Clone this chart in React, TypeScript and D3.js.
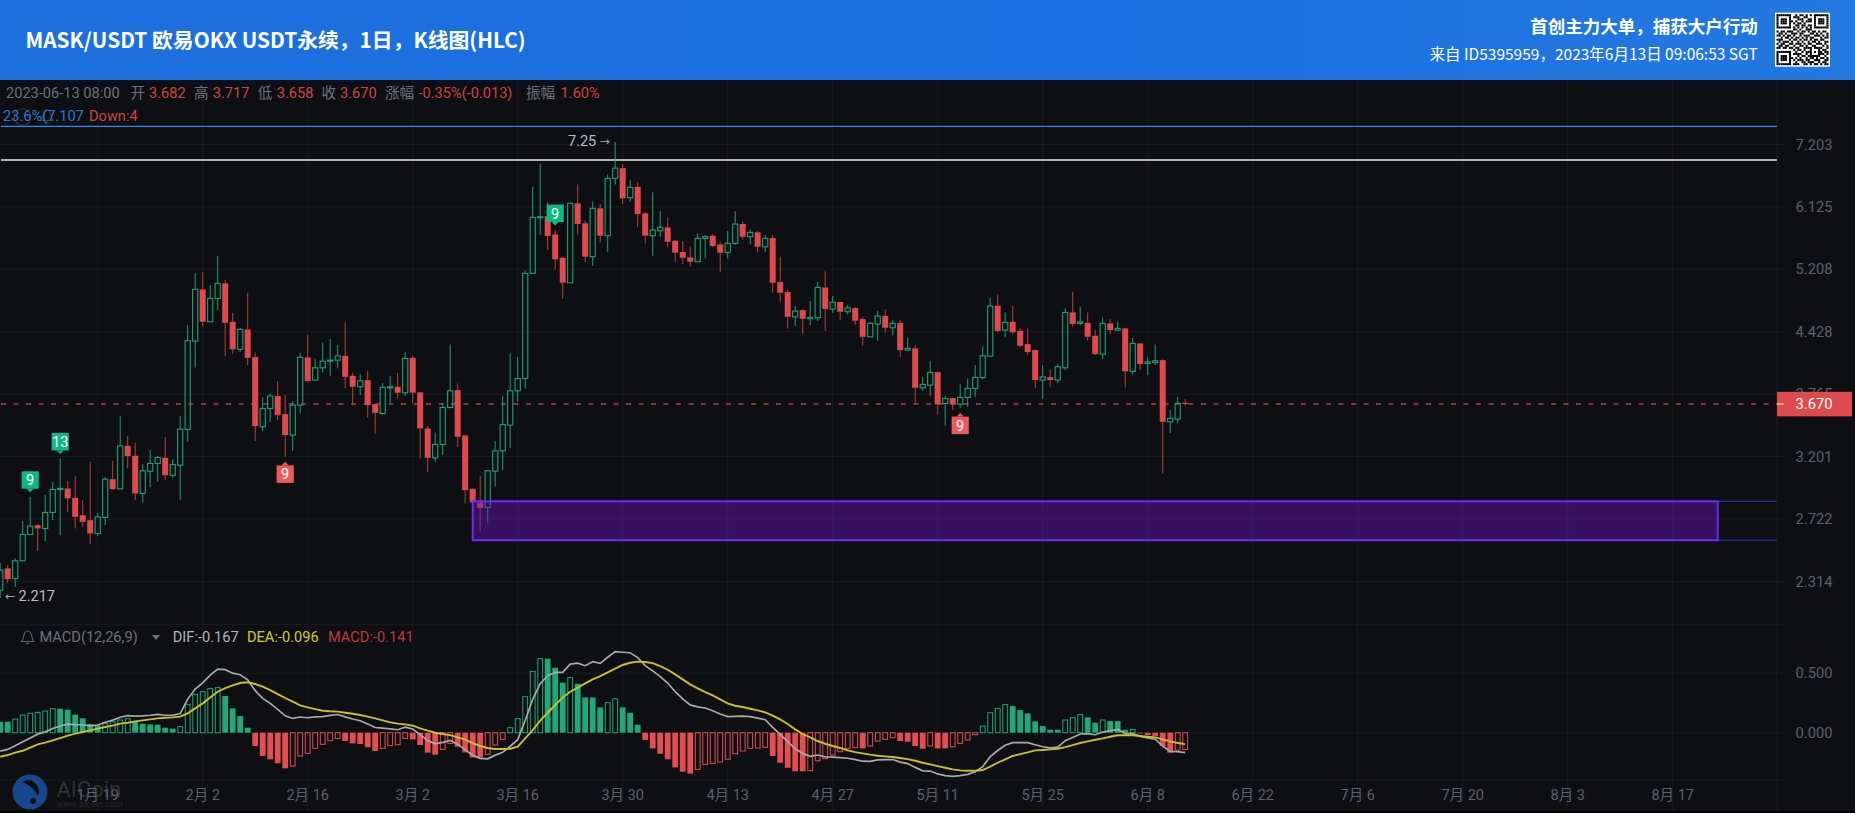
import React from 'react';
import * as d3 from 'd3';

const WIDTH = 1855;
const HEIGHT = 813;

// daily candles, first bar is 2023-01-06
const firstDay = Date.UTC(2023, 0, 6);

const opens = [
  2.262, 2.394, 2.332, 2.442, 2.615, 2.679, 2.656, 2.769, 2.939, 2.947, 2.876, 2.749, 2.714, 2.621, 2.733, 3.019, 2.944, 3.292, 3.208, 2.909, 3.082, 3.145, 3.191, 3.050, 3.131, 3.435,
  4.322, 4.943, 4.544, 4.829, 5.021, 4.544, 4.230, 4.455, 4.146, 3.459, 3.628, 3.748, 3.575, 3.385, 3.659, 4.143, 3.905, 4.032, 4.102, 4.113, 4.159, 3.950, 3.838, 3.905, 3.669, 3.581, 3.832, 3.838,
  3.779, 4.138, 3.782, 3.444, 3.191, 3.304, 3.637, 3.805, 3.382, 2.944, 2.842, 2.805, 3.082, 3.249, 3.474, 3.798, 3.922, 5.154, 5.961, 5.980, 5.703, 5.367, 5.029, 6.182, 5.869, 5.381, 6.102, 5.683, 6.596, 6.774, 6.272,
  6.454, 6.023, 5.683, 5.757, 5.808, 5.609, 5.447, 5.372, 5.311, 5.644, 5.683, 5.556, 5.443, 5.571, 5.858, 5.668, 5.733, 5.522, 5.649, 5.038, 4.909, 4.603, 4.684, 4.580, 4.592, 4.969, 4.696, 4.784, 4.664, 4.709,
  4.576, 4.370, 4.517, 4.615, 4.474, 4.532, 4.222, 4.241, 3.828, 3.855, 3.987, 3.675, 3.726, 3.669, 3.733, 3.822, 3.932, 4.156, 4.738, 4.447, 4.544, 4.439, 4.288, 4.222, 3.905, 3.935, 3.905, 4.032, 4.656, 4.525, 4.532,
  4.382, 4.178, 4.525, 4.447, 4.467, 3.995, 4.296, 4.078, 4.089, 4.113, 3.504, 3.528, 3.682,
];
const highs = [
  2.429, 2.414, 2.459, 2.709, 2.884, 2.686, 2.896, 2.998, 3.186, 3.005, 3.042, 2.859, 3.158, 2.766, 3.036, 3.166, 3.556, 3.376, 3.318, 3.139, 3.255, 3.205, 3.370, 3.178, 3.556, 4.505,
  5.154, 5.168, 4.999, 5.391, 5.064, 4.652, 4.474, 4.900, 4.197, 3.733, 3.772, 3.895, 3.756, 3.697, 4.193, 4.397, 4.131, 4.307, 4.344, 4.277, 4.537, 3.980, 3.967, 4.001, 3.675, 3.878, 3.950, 3.980,
  4.197, 4.159, 3.788, 3.467, 3.408, 3.681, 4.284, 3.871, 3.385, 2.947, 3.044, 3.090, 3.332, 3.745, 4.186, 4.149, 5.198, 6.454, 6.850, 6.208, 5.767, 5.381, 6.192, 6.492, 5.908, 6.208, 6.170, 6.666, 7.250, 6.845, 6.568,
  6.529, 6.048, 6.361, 6.059, 5.955, 5.619, 5.604, 5.522, 5.718, 5.693, 5.708, 5.594, 5.752, 6.059, 5.893, 5.777, 5.752, 5.693, 5.693, 5.381, 4.943, 4.734, 4.693, 4.796, 5.042, 5.189, 4.858, 4.787, 4.746, 4.718,
  4.596, 4.544, 4.676, 4.696, 4.564, 4.564, 4.363, 4.277, 3.938, 4.106, 3.990, 3.748, 3.733, 3.862, 3.922, 4.060, 4.263, 4.837, 4.879, 4.656, 4.734, 4.474, 4.467, 4.230, 4.060, 4.015, 4.071, 4.705, 4.912, 4.725, 4.656,
  4.447, 4.596, 4.576, 4.544, 4.474, 4.359, 4.303, 4.143, 4.284, 4.121, 3.612, 3.739, 3.717,
];
const lows = [
  2.217, 2.304, 2.282, 2.442, 2.610, 2.505, 2.571, 2.714, 2.610, 2.773, 2.656, 2.667, 2.549, 2.604, 2.679, 2.934, 2.944, 3.104, 2.859, 2.842, 2.959, 2.998, 3.011, 3.029, 2.859, 3.326,
  4.036, 4.493, 4.544, 4.684, 4.156, 4.178, 4.203, 4.060, 3.332, 3.420, 3.504, 3.519, 3.199, 3.249, 3.581, 3.882, 3.905, 3.984, 3.950, 4.026, 3.822, 3.659, 3.756, 3.540, 3.394, 3.565, 3.681, 3.723,
  3.748, 3.681, 3.186, 3.077, 3.158, 3.213, 3.628, 3.283, 2.834, 2.842, 2.633, 2.691, 2.964, 3.090, 3.275, 3.691, 3.822, 5.154, 5.693, 5.475, 5.207, 4.820, 5.029, 5.703, 5.304, 5.252, 5.585, 5.451, 6.492, 6.170, 6.208,
  5.808, 5.571, 5.395, 5.668, 5.514, 5.311, 5.281, 5.243, 5.311, 5.359, 5.514, 5.175, 5.359, 5.547, 5.629, 5.556, 5.442, 5.442, 4.900, 4.787, 4.467, 4.493, 4.401, 4.505, 4.552, 4.439, 4.652, 4.564, 4.632, 4.505,
  4.266, 4.370, 4.325, 4.418, 4.385, 4.148, 4.222, 3.669, 3.798, 3.748, 3.575, 3.467, 3.612, 3.631, 3.643, 3.739, 3.912, 4.156, 4.421, 4.370, 4.401, 4.252, 4.167, 3.822, 3.717, 3.832, 3.878, 4.008, 4.486, 4.505, 4.325,
  4.167, 4.127, 4.401, 4.447, 3.832, 3.964, 4.008, 3.957, 4.060, 3.064, 3.405, 3.490, 3.658,
];
const closes = [
  2.383, 2.328, 2.442, 2.615, 2.672, 2.656, 2.769, 2.939, 2.947, 2.872, 2.737, 2.702, 2.621, 2.737, 3.019, 2.942, 3.292, 3.205, 2.909, 3.085, 3.145, 3.194, 3.050, 3.136, 3.438, 4.325,
  4.943, 4.544, 4.829, 5.021, 4.532, 4.230, 4.455, 4.138, 3.465, 3.628, 3.748, 3.565, 3.385, 3.659, 4.143, 3.895, 4.032, 4.102, 4.113, 4.159, 3.938, 3.838, 3.898, 3.659, 3.587, 3.832, 3.838, 3.779,
  4.131, 3.779, 3.444, 3.191, 3.304, 3.637, 3.798, 3.370, 2.934, 2.842, 2.802, 3.085, 3.249, 3.480, 3.798, 3.922, 5.154, 5.961, 5.970, 5.678, 5.345, 5.029, 6.182, 5.858, 5.381, 6.102, 5.683, 6.596, 6.774, 6.262, 6.444,
  6.012, 5.683, 5.767, 5.808, 5.594, 5.437, 5.367, 5.311, 5.644, 5.668, 5.532, 5.437, 5.571, 5.858, 5.668, 5.733, 5.522, 5.644, 5.029, 4.900, 4.603, 4.672, 4.580, 4.596, 4.969, 4.696, 4.780, 4.664, 4.712, 4.556,
  4.370, 4.525, 4.612, 4.474, 4.525, 4.222, 4.241, 3.828, 3.862, 3.984, 3.666, 3.723, 3.666, 3.733, 3.822, 3.932, 4.159, 4.734, 4.436, 4.537, 4.421, 4.270, 4.200, 3.905, 3.938, 3.905, 4.043, 4.656, 4.517, 4.541, 4.370,
  4.178, 4.525, 4.447, 4.467, 3.995, 4.296, 4.071, 4.095, 4.106, 3.504, 3.535, 3.675, 3.670,
];

const macdHist = [
  .093, .093, .115, .149, .163, .171, .182, .202, .202, .194, .152, .121, .073, .062, .079, .093, .107, .118, .090, .076, .070, .067, .042, .034, .051, .239,
  .323, .345, .373, .379, .309, .205, .140, .042, -.112, -.196, -.224, -.258, -.300, -.281, -.196, -.174, -.132, -.098, -.067, -.048, -.070, -.090, -.095, -.123, -.154, -.132, -.109, -.101,
  -.048, -.056, -.104, -.168, -.185, -.140, -.090, -.118, -.166, -.208, -.208, -.182, -.104, -.056, .042, .118, .303, .516, .623, .623, .547, .421, .463, .412, .297, .297, .213, .253, .286, .213, .168,
  .067, -.062, -.132, -.177, -.224, -.292, -.328, -.345, -.309, -.267, -.258, -.247, -.224, -.177, -.154, -.132, -.129, -.123, -.196, -.253, -.295, -.325, -.325, -.320, -.236, -.219, -.188, -.160, -.132, -.126,
  -.132, -.112, -.070, -.056, -.042, -.070, -.076, -.112, -.135, -.112, -.132, -.132, -.118, -.090, -.062, -.017, .056, .168, .205, .236, .224, .191, .163, .095, .056, .025, .025, .107, .126, .152, .129,
  .084, .107, .098, .098, .025, .028, -.006, -.020, -.031, -.112, -.168, -.146, -.141,
];
const dif = [
  -.155, -.141, -.110, -.077, -.044, -.012, .007, .036, .056, .072, .068, .067, .057, .065, .088, .106, .130, .143, .140, .142, .147, .155, .147, .146, .161, .283,
  .367, .420, .484, .535, .531, .501, .488, .445, .354, .289, .247, .196, .142, .120, .132, .126, .133, .136, .146, .153, .133, .115, .101, .073, .044, .038, .032, .025,
  .046, .031, -.016, -.067, -.093, -.081, -.065, -.098, -.142, -.191, -.216, -.220, -.189, -.165, -.114, -.059, .104, .280, .413, .480, .507, .508, .577, .585, .564, .598, .584, .635, .682, .677, .673,
  .632, .564, .520, .472, .418, .345, .285, .234, .218, .208, .185, .157, .135, .138, .139, .136, .123, .109, .045, -.015, -.075, -.135, -.174, -.199, -.188, -.203, -.206, -.209, -.215, -.226,
  -.240, -.241, -.229, -.227, -.226, -.248, -.260, -.292, -.321, -.323, -.347, -.361, -.368, -.362, -.351, -.329, -.286, -.202, -.150, -.106, -.084, -.084, -.084, -.101, -.118, -.127, -.122, -.067, -.041, -.011, -.008,
  -.017, .006, .015, .027, -.007, -.008, -.031, -.044, -.055, -.112, -.157, -.160, -.167,
];
const dea = [
  -.202, -.188, -.168, -.152, -.126, -.098, -.084, -.065, -.045, -.025, -.008, .006, .020, .034, .048, .059, .076, .084, .095, .104, .112, .121, .126, .129, .135, .163,
  .205, .247, .297, .345, .376, .398, .418, .424, .410, .387, .359, .325, .292, .261, .230, .213, .199, .185, .180, .177, .168, .160, .149, .135, .121, .104, .087, .076,
  .070, .059, .036, .017, .000, -.011, -.020, -.039, -.059, -.087, -.112, -.129, -.137, -.137, -.135, -.118, -.048, .022, .101, .168, .233, .297, .345, .379, .415, .449, .477, .508, .539, .570, .589,
  .598, .595, .586, .561, .530, .491, .449, .407, .373, .342, .314, .281, .247, .227, .216, .202, .188, .171, .143, .112, .073, .028, -.011, -.039, -.070, -.093, -.112, -.129, -.149, -.163,
  -.174, -.185, -.194, -.199, -.205, -.213, -.222, -.236, -.253, -.267, -.281, -.295, -.309, -.317, -.320, -.320, -.314, -.286, -.253, -.224, -.196, -.180, -.166, -.149, -.146, -.140, -.135, -.121, -.104, -.087, -.073,
  -.059, -.048, -.034, -.022, -.020, -.022, -.028, -.034, -.039, -.056, -.073, -.087, -.096,
];

const priceTicks = [7.203, 6.125, 5.208, 4.428, 3.765, 3.201, 2.722, 2.314];
const macdTicks = [0.5, 0];
const macdRuleValues = [0.909, 0.5, 0, -0.398];

const xTickDates = ['2023-01-19', '2023-02-02', '2023-02-16', '2023-03-02', '2023-03-16', '2023-03-30', '2023-04-13', '2023-04-27', '2023-05-11', '2023-05-25', '2023-06-08', '2023-06-22', '2023-07-06', '2023-07-20', '2023-08-03', '2023-08-17'];
const xTickLabels = ['1月 19', '2月 2', '2月 16', '3月 2', '3月 16', '3月 30', '4月 13', '4月 27', '5月 11', '5月 25', '6月 8', '6月 22', '7月 6', '7月 20', '8月 3', '8月 17'];

const fibLevel = 7.552;
const whiteLevel = 6.918;
const lastPrice = 3.67;
const zoneTop = 2.85;
const zoneBottom = 2.576;
const zoneStart = '2023-03-10';
const zoneEnd = '2023-08-23';

const seqMarks = [
  { date: '2023-01-10', label: '9', side: 'up' },
  { date: '2023-01-14', label: '13', side: 'up' },
  { date: '2023-03-21', label: '9', side: 'up' },
  { date: '2023-02-13', label: '9', side: 'down' },
  { date: '2023-05-14', label: '9', side: 'down' },
];

const ohlcItems = [
  { text: '2023-06-13 08:00', x: 6, kind: 'label' },
  { text: '开', x: 130.5, kind: 'label' },
  { text: '3.682', x: 149, kind: 'value' },
  { text: '高', x: 194, kind: 'label' },
  { text: '3.717', x: 212.7, kind: 'value' },
  { text: '低', x: 257.7, kind: 'label' },
  { text: '3.658', x: 276.7, kind: 'value' },
  { text: '收', x: 321.5, kind: 'label' },
  { text: '3.670', x: 340, kind: 'value' },
  { text: '涨幅', x: 385, kind: 'label' },
  { text: '-0.35%(-0.013)', x: 418.5, kind: 'value' },
  { text: '振幅', x: 526, kind: 'label' },
  { text: '1.60%', x: 560.6, kind: 'value' },
];

// rough copy of the code square in the header
const qrRows = [
  '1111111001011010101111111',
  '1000001011100110001000001',
  '1011101000111001101011101',
  '1011101101001011101011101',
  '1011101010110100001011101',
  '1000001001101101101000001',
  '1111111010101010101111111',
  '0000000011010011100000000',
  '1011011100101101011010110',
  '0110100111011000110101001',
  '1101011010010111001110101',
  '0010110101101010110001011',
  '1110001011010110101101100',
  '0101110100101001011010011',
  '1011001101110101100111010',
  '0110110010011010011000101',
  '1101101101100111101111001',
  '0000000010110100100010110',
  '1111111001001011101011011',
  '1000001011110010100011101',
  '1011101000101101111110010',
  '1011101101010010110101101',
  '1011101010111011001110011',
  '1000001001001101110010110',
  '1111111011100110101101011',
];

const UI_FONT = 'Roboto, "Noto Sans CJK SC", sans-serif';
const HEAD_FONT = '"Noto Sans CJK SC", Roboto, sans-serif';
const GREEN = '#1aa377';
const RED = '#e04a4c';
const BG = '#0d0f12';
const GRID = '#1a1c20';
const AXIS_TEXT = '#5d616e';
const LABEL_TEXT = '#6e717b';

const x = d3.scaleUtc()
  .domain([Date.UTC(2023, 0, 19), Date.UTC(2023, 7, 17)])
  .range([97.7, 1672.7]);
const y = d3.scaleLog().domain([2.314, 7.203]).range([581.5, 144.5]);
const yMacd = d3.scaleLinear().domain([0, 0.5]).range([732.7, 673.3]);

const dayAt = (i: number) => d3.utcDay.offset(new Date(firstDay), i);
const xOf = (s: string) => x(new Date(s + 'T00:00:00Z'));

const difLine = d3.line<number>().x((_, i) => x(dayAt(i))).y(d => yMacd(d));

const Bell = ({ cx, cy, color }: { cx: number; cy: number; color: string }) => (
  <g transform={`translate(${cx},${cy})`} fill="none" stroke={color} strokeWidth={1.2}>
    <path d="M-6 4.5 C-3.5 2 -5 -6 0 -6 C5 -6 3.5 2 6 4.5 Z" />
    <path d="M-1.5 6.5 L1.5 6.5" />
  </g>
);

const App = () => {
  const candleIndex = opens.map((_, i) => i);

  return (
    <svg
      width={WIDTH}
      height={HEIGHT}
      viewBox={`0 0 ${WIDTH} ${HEIGHT}`}
      style={{ position: 'absolute', left: 0, top: 0, display: 'block' }}
    >
      <defs>
        <linearGradient id="head-bg" x1="0" x2="1" y1="0" y2="0">
          <stop offset="0%" stopColor="#1d6fdd" />
          <stop offset="60%" stopColor="#1c6fe0" />
          <stop offset="100%" stopColor="#2379df" />
        </linearGradient>
        <clipPath id="plot-clip">
          <rect x={0} y={80} width={1777} height={731} />
        </clipPath>
      </defs>

      <rect width={WIDTH} height={HEIGHT} fill="#000" />
      <rect y={80} width={WIDTH} height={731} fill={BG} />

      {/* grid */}
      {xTickDates.map(d => (
        <line key={d} x1={xOf(d)} x2={xOf(d)} y1={80} y2={811} stroke={GRID} />
      ))}
      {priceTicks.map(p => (
        <line key={p} x1={0} x2={1784} y1={y(p)} y2={y(p)} stroke={GRID} />
      ))}
      {macdRuleValues.map(v => (
        <line key={v} x1={0} x2={1784} y1={yMacd(v)} y2={yMacd(v)} stroke={GRID} />
      ))}
      <line x1={1777} x2={1777} y1={80} y2={811} stroke="#1e2024" />

      {/* price levels */}
      <line x1={1} x2={1777} y1={y(fibLevel)} y2={y(fibLevel)} stroke="#1b8cff" strokeWidth={1.3} />
      <line x1={1} x2={1777} y1={y(whiteLevel)} y2={y(whiteLevel)} stroke="#b4b4b4" strokeWidth={2} />
      <line x1={1} x2={1777} y1={y(lastPrice)} y2={y(lastPrice)} stroke="#b83c3e" strokeWidth={1.6} strokeDasharray="5 7.5" />

      {/* candles */}
      <g clipPath="url(#plot-clip)">
        {candleIndex.map(i => {
          const up = closes[i] >= opens[i];
          const cx = x(dayAt(i));
          const top = y(Math.max(opens[i], closes[i]));
          const bottom = y(Math.min(opens[i], closes[i]));
          const color = up ? GREEN : RED;
          return (
            <g key={i}>
              <line x1={cx} x2={cx} y1={y(highs[i])} y2={top} stroke={up ? color : '#b9403f'} strokeWidth={1} />
              <line x1={cx} x2={cx} y1={bottom} y2={y(lows[i])} stroke={up ? color : '#b9403f'} strokeWidth={1} />
              {up ? (
                <rect x={cx - 2.6} y={top} width={5.2} height={Math.max(bottom - top, 1)} fill="none" stroke={color} strokeWidth={1.1} />
              ) : (
                <rect x={cx - 3} y={top} width={6} height={Math.max(bottom - top, 1)} fill={color} />
              )}
            </g>
          );
        })}
      </g>

      {/* zone box */}
      <line x1={xOf(zoneStart)} x2={1777} y1={y(zoneTop)} y2={y(zoneTop)} stroke="#1c2ea8" strokeWidth={1.3} />
      <line x1={xOf(zoneStart)} x2={1777} y1={y(zoneBottom)} y2={y(zoneBottom)} stroke="#1c2ea8" strokeWidth={1.3} />
      <rect
        x={xOf(zoneStart)}
        y={y(zoneTop)}
        width={xOf(zoneEnd) - xOf(zoneStart)}
        height={y(zoneBottom) - y(zoneTop)}
        fill="rgba(107,20,186,0.45)"
        stroke="#6a2cf0"
        strokeWidth={2}
      />

      {/* TD sequence marks */}
      {seqMarks.map(m => {
        const i = d3.utcDay.count(new Date(firstDay), new Date(m.date + 'T00:00:00Z'));
        const cx = x(dayAt(i));
        const isUp = m.side === 'up';
        const tip = isUp ? y(highs[i]) - 4.5 : y(lows[i]) + 5;
        const dir = isUp ? -1 : 1;
        const near = tip + dir * 3.5;
        const far = near + dir * 17.5;
        return (
          <g key={m.date}>
            <rect x={cx - 8.6} y={Math.min(near, far)} width={17.2} height={17.5} fill={isUp ? '#0cb984' : '#ec5b5c'} />
            <path d={`M${cx - 3.5} ${near} L${cx} ${tip} L${cx + 3.5} ${near} Z`} fill={isUp ? '#0cb984' : '#ec5b5c'} />
            <text x={cx} y={(near + far) / 2} dy=".36em" textAnchor="middle" fontFamily={UI_FONT} fontSize={14.5} fill="#fff">
              {m.label}
            </text>
          </g>
        );
      })}

      {/* high / low notes */}
      <text x={568} y={140.7} dy=".35em" fontFamily={UI_FONT} fontSize={14.5} fill="#bdbdbd">
        7.25 <tspan fontSize={10}>→</tspan>
      </text>
      <text x={5} y={596} dy=".35em" fontFamily={UI_FONT} fontSize={14.5} fill="#bdbdbd">
        <tspan fontSize={10}>←</tspan> 2.217
      </text>

      {/* MACD bars */}
      {macdHist.map((v, i) => {
        const cx = x(dayAt(i));
        const hollow = i > 0 && v > macdHist[i - 1];
        const top = yMacd(Math.max(v, 0));
        const bottom = yMacd(Math.min(v, 0));
        const color = v >= 0 ? '#1fa878' : '#e34e50';
        return hollow ? (
          <rect key={i} x={cx - 2.4} y={top} width={4.8} height={bottom - top} fill="none" stroke={color} strokeWidth={1} />
        ) : (
          <rect key={i} x={cx - 2.9} y={top} width={5.8} height={bottom - top} fill={color} />
        );
      })}
      <path d={difLine(dif) ?? ''} fill="none" stroke="#a9a9ab" strokeWidth={1.7} />
      <path d={difLine(dea) ?? ''} fill="none" stroke="#c9bf2c" strokeWidth={1.9} />

      {/* watermark */}
      <g>
        <circle cx={30} cy={792} r={17.5} fill="#17478f" />
        <path d="M22 782 C32 776 42 786 38 796 C34 788 28 784 22 782 Z" fill={BG} />
        <circle cx={33} cy={801} r={3} fill={BG} />
        <text x={56.5} y={797} fontFamily={UI_FONT} fontSize={22} fill="#2e3137">AICoin</text>
        <text x={56.5} y={807} fontFamily={UI_FONT} fontSize={9} fill="#26292e">www.aicoin.com</text>
      </g>

      {/* x axis */}
      {xTickDates.map((d, i) => (
        <text key={d} x={xOf(d)} y={795} dy=".35em" textAnchor="middle" fontFamily={UI_FONT} fontSize={14.5} fill={AXIS_TEXT}>
          {xTickLabels[i]}
        </text>
      ))}

      {/* y axes */}
      {priceTicks.map(p => (
        <text key={p} x={1795.5} y={y(p)} dy=".35em" fontFamily={UI_FONT} fontSize={14.7} fill={AXIS_TEXT}>
          {d3.format('.3f')(p)}
        </text>
      ))}
      {macdTicks.map(v => (
        <text key={v} x={1795.5} y={yMacd(v)} dy=".35em" fontFamily={UI_FONT} fontSize={14.7} fill={AXIS_TEXT}>
          {d3.format('.3f')(v)}
        </text>
      ))}
      <rect x={1777} y={y(lastPrice) - 12.2} width={75} height={24.6} fill="#df4b4d" />
      <line x1={1777} x2={1784} y1={y(lastPrice)} y2={y(lastPrice)} stroke="#fff" strokeWidth={1} />
      <text x={1795.5} y={y(lastPrice)} dy=".35em" fontFamily={UI_FONT} fontSize={14.7} fill="#fff">
        {d3.format('.3f')(lastPrice)}
      </text>

      {/* legends */}
      {ohlcItems.map(t => (
        <text key={t.x} x={t.x} y={93} dy=".35em" fontFamily={UI_FONT} fontSize={14.6} fill={t.kind === 'value' ? '#cf4345' : LABEL_TEXT}>
          {t.text}
        </text>
      ))}
      <circle cx={22.5} cy={117} r={8.3} fill="none" stroke="#3b3e45" strokeWidth={1.1} />
      <Bell cx={47} cy={116} color="#3f4249" />
      <text x={3} y={115.7} dy=".35em" fontFamily={UI_FONT} fontSize={14.6} fill="#2479dc">23.6%(7.107</text>
      <text x={89} y={115.7} dy=".35em" fontFamily={UI_FONT} fontSize={14.6} fill="#cf4345">Down:4</text>

      <Bell cx={27.7} cy={637} color="#5d616e" />
      <text x={39.5} y={637.3} dy=".35em" fontFamily={UI_FONT} fontSize={14.6} fill={LABEL_TEXT}>MACD(12,26,9)</text>
      <path d="M152 635 L160 635 L156 640 Z" fill={LABEL_TEXT} />
      <text x={172.8} y={637.3} dy=".35em" fontFamily={UI_FONT} fontSize={14.6} fill="#b5b5b7">DIF:-0.167</text>
      <text x={247} y={637.3} dy=".35em" fontFamily={UI_FONT} fontSize={14.6} fill="#d6cd2c">DEA:-0.096</text>
      <text x={328} y={637.3} dy=".35em" fontFamily={UI_FONT} fontSize={14.6} fill="#bf3b3d">MACD:-0.141</text>

      {/* header */}
      <rect width={WIDTH} height={80} fill="url(#head-bg)" />
      <text x={25.5} y={41} dy=".35em" fontFamily={HEAD_FONT} fontSize={20.8} fontWeight={700} fill="#fff">
        MASK/USDT 欧易OKX USDT永续，1日，K线图(HLC)
      </text>
      <text x={1757.7} y={27} dy=".35em" textAnchor="end" fontFamily={HEAD_FONT} fontSize={17.5} fontWeight={700} fill="#fff">
        首创主力大单，捕获大户行动
      </text>
      <text x={1757.7} y={54.5} dy=".35em" textAnchor="end" fontFamily={HEAD_FONT} fontSize={15.5} fill="#fff">
        来自 ID5395959，2023年6月13日 09:06:53 SGT
      </text>
      <rect x={1775} y={12.7} width={55} height={54} fill="#fff" />
      {qrRows.map((row, r) =>
        row.split('').map((c, k) =>
          c === '1' ? <rect key={`${r}-${k}`} x={1776.5 + k * 2.08} y={14.2 + r * 2.04} width={2.08} height={2.04} fill="#000" /> : null
        )
      )}
    </svg>
  );
};

export default App;
